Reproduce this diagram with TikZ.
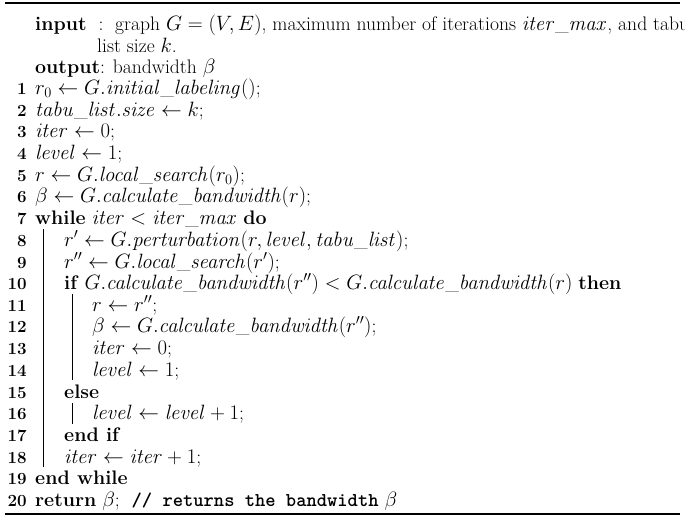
\documentclass[tikz,border=0pt]{standalone}
\begin{document}
\begin{tikzpicture}[x=1pt,y=-1pt,
  ln/.style={anchor=base east,inner sep=0pt,font=\fontsize{17}{20}\selectfont\bfseries},
  tx/.style={anchor=base west,inner sep=0pt,font=\fontsize{19.6}{22}\selectfont},
  bar/.style={line width=0.7pt}]
\useasboundingbox (0,0) rectangle (685,522);
\fill[white] (0,0) rectangle (685,522);
\draw[line width=1.3pt] (5,3) -- (680,3);
\draw[line width=1.3pt] (5,514) -- (680,514);
\newcommand\mi[1]{\mathit{#1}}
\node[tx] (in) at (35,30) {\textbf{input}\ \ :\ \ graph $G=(V,E)$, maximum number of iterations $\mi{iter\_max}$, and tabu};
\node[tx] (in2) at (97,52) {list size $k$.};
\node[tx] (out) at (35,73) {\textbf{output}: bandwidth $\beta$};
\foreach \n/\y/\x/\t in {
 1/94/35/{$r_0\leftarrow G.\mi{initial\_labeling}()$;},
 2/116/35/{$\mi{tabu\_list.size}\leftarrow k$;},
 3/137/35/{$\mi{iter}\leftarrow 0$;},
 4/159/35/{$\mi{level}\leftarrow 1$;},
 5/181/35/{$r\leftarrow G.\mi{local\_search}(r_0)$;},
 6/202/35/{$\beta\leftarrow G.\mi{calculate\_bandwidth}(r)$;},
 7/224/35/{\textbf{while} $\mi{iter}<\mi{iter\_max}$ \textbf{do}},
 8/246/64/{$r'\leftarrow G.\mi{perturbation}(r,\mi{level},\mi{tabu\_list})$;},
 9/268/64/{$r''\leftarrow G.\mi{local\_search}(r')$;},
 10/289/64/{\textbf{if} $G.\mi{calculate\_bandwidth}(r'')<G.\mi{calculate\_bandwidth}(r)$ \textbf{then}},
 11/311/92/{$r\leftarrow r''$;},
 12/332/92/{$\beta\leftarrow G.\mi{calculate\_bandwidth}(r'')$;},
 13/354/92/{$\mi{iter}\leftarrow 0$;},
 14/376/92/{$\mi{level}\leftarrow 1$;},
 15/398/64/{\textbf{else}},
 16/419/92/{$\mi{level}\leftarrow\mi{level}+1$;},
 17/441/64/{\textbf{end if}},
 18/463/64/{$\mi{iter}\leftarrow\mi{iter}+1$;},
 19/484/35/{\textbf{end while}},
 20/506/35/{\textbf{return} $\beta$;\ \ {\ttfamily\bfseries // returns the bandwidth} $\beta$}}
 {\node[ln] (n\n) at (27,\y) {\n};
  \node[tx] (t\n) at (\x,\y) {\t};}
\draw[bar] (43,229) -- (43,467);
\draw[bar] (72,294) -- (72,380);
\draw[bar] (72,403) -- (72,424);
\end{tikzpicture}
\end{document}
